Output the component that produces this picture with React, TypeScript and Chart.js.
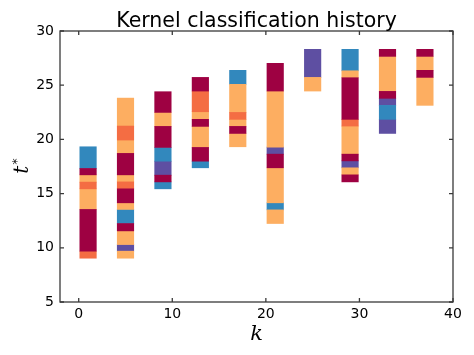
import React, { useEffect, useRef } from "react";
import { Chart, registerables } from "chart.js";

Chart.register(...registerables);

// ---- data ----
const chartTitle = "Kernel classification history";
const xLabel = "k";
const yLabel = "t";
const yLabelSup = "*";

const kValues = [1, 5, 9, 13, 17, 21, 25, 29, 33, 37];
const xTicks = [0, 10, 20, 30, 40];
const yTicks = [5, 10, 15, 20, 25, 30];

// class index -> colour (Spectral-like)
const classColors = ["#9e0142", "#f46d43", "#fdae61", "#3288bd", "#5e4fa2"];
const classNames = ["class 0", "class 1", "class 2", "class 3", "class 4"];

// segment edges (top to bottom) and class per segment, per column
const col0Edges = [19.32, 17.32, 16.73, 16.06, 15.44, 13.54, 9.69, 9.04];
const col0Classes = [3, 0, 2, 1, 2, 0, 1];
const col1Edges = [23.81, 21.23, 19.94, 18.71, 16.73, 16.08, 15.44, 14.15, 13.54, 12.24, 11.56, 10.3, 9.69, 9.04];
const col1Classes = [2, 1, 2, 0, 2, 1, 0, 2, 3, 0, 2, 4, 2];
const col2Edges = [24.4, 22.49, 21.2, 19.26, 17.99, 16.7, 16.08, 15.44];
const col2Classes = [0, 2, 0, 3, 4, 0, 3];
const col3Edges = [25.72, 24.46, 22.55, 21.85, 21.2, 19.26, 17.99, 17.38];
const col3Classes = [0, 1, 2, 0, 2, 0, 3];
const col4Edges = [26.37, 25.08, 22.49, 21.85, 21.2, 20.55, 19.32];
const col4Classes = [3, 2, 1, 2, 0, 2];
const col5Edges = [27.02, 24.46, 19.29, 18.64, 17.38, 14.15, 13.5, 12.24];
const col5Classes = [0, 2, 4, 0, 2, 3, 2];
const col6Edges = [28.31, 25.72, 24.46];
const col6Classes = [4, 2];
const col7Edges = [28.31, 26.33, 25.69, 21.85, 21.23, 18.64, 18.02, 17.38, 16.73, 16.08];
const col7Classes = [3, 2, 0, 1, 2, 0, 4, 2, 0];
const col8Edges = [28.31, 27.66, 24.43, 23.79, 23.14, 21.85, 20.55];
const col8Classes = [0, 2, 0, 4, 3, 4];
const col9Edges = [28.31, 27.66, 26.37, 25.72, 23.14];
const col9Classes = [0, 2, 0, 2];

const columnEdges = [col0Edges, col1Edges, col2Edges, col3Edges, col4Edges, col5Edges, col6Edges, col7Edges, col8Edges, col9Edges];
const columnClasses = [col0Classes, col1Classes, col2Classes, col3Classes, col4Classes, col5Classes, col6Classes, col7Classes, col8Classes, col9Classes];

function buildDatasets() {
  return classColors.map((color, ci) => {
    const data: { x: number; y: [number, number] }[] = [];
    kValues.forEach((k, col) => {
      const edges = columnEdges[col];
      const classes = columnClasses[col];
      classes.forEach((c, s) => {
        if (c === ci) data.push({ x: k, y: [edges[s + 1], edges[s]] });
      });
    });
    return {
      label: classNames[ci],
      data,
      backgroundColor: color,
      borderWidth: 0,
      grouped: false,
      barThickness: 16.5,
    };
  });
}

const framePlugin = {
  id: "frame",
  afterDraw(chart: any) {
    const { ctx, chartArea, scales } = chart;
    const { left, right, top, bottom } = chartArea;
    const x = scales.x;
    const y = scales.y;
    ctx.save();
    ctx.strokeStyle = "#3a3a3a";
    ctx.lineWidth = 1.3;
    ctx.strokeRect(left, top, right - left, bottom - top);
    const tl = 4;
    ctx.beginPath();
    xTicks.forEach((v) => {
      const px = x.getPixelForValue(v);
      ctx.moveTo(px, bottom);
      ctx.lineTo(px, bottom - tl);
      ctx.moveTo(px, top);
      ctx.lineTo(px, top + tl);
    });
    yTicks.forEach((v) => {
      const py = y.getPixelForValue(v);
      ctx.moveTo(left, py);
      ctx.lineTo(left + tl, py);
      ctx.moveTo(right, py);
      ctx.lineTo(right - tl, py);
    });
    ctx.stroke();

    // title
    ctx.fillStyle = "#000";
    ctx.font = '20.5px "DejaVu Sans"';
    ctx.textAlign = "center";
    ctx.textBaseline = "alphabetic";
    ctx.fillText(chartTitle, (left + right) / 2, 27);

    // x label
    ctx.font = 'italic 21px "DejaVu Serif"';
    ctx.fillText(xLabel, (left + right) / 2, 340);

    // y label
    ctx.save();
    ctx.translate(28, (top + bottom) / 2);
    ctx.rotate(-Math.PI / 2);
    ctx.font = 'italic 20px "DejaVu Serif"';
    ctx.textAlign = "left";
    const tw = ctx.measureText(yLabel).width;
    ctx.font = '13px "DejaVu Sans"';
    const sw = ctx.measureText(yLabelSup).width;
    const start = -(tw + sw) / 2;
    ctx.font = 'italic 20px "DejaVu Serif"';
    ctx.fillText(yLabel, start, 0);
    ctx.font = '13px "DejaVu Sans"';
    ctx.fillText(yLabelSup, start + tw + 1, -7);
    ctx.restore();
    ctx.restore();
  },
};

export default function App() {
  const ref = useRef<HTMLCanvasElement>(null);
  useEffect(() => {
    if (!ref.current) return;
    const chart = new Chart(ref.current, {
      type: "bar",
      data: { datasets: buildDatasets() as any },
      options: {
        responsive: false,
        animation: false,
        devicePixelRatio: 1,
        layout: { padding: { left: 0, right: 21, top: 31, bottom: 0 } },
        plugins: { legend: { display: false }, tooltip: { enabled: false }, title: { display: false } },
        scales: {
          x: {
            type: "linear",
            min: -2,
            max: 40,
            offset: false,
            grid: { display: false, drawTicks: false, offset: false },
            border: { display: false },
            afterBuildTicks: (s: any) => {
              s.ticks = xTicks.map((v) => ({ value: v }));
            },
            afterFit: (s: any) => {
              s.height = 53;
            },
            ticks: {
              color: "#000",
              font: { family: "DejaVu Sans", size: 14 },
              padding: 4,
              maxRotation: 0,
              autoSkip: false,
            },
          },
          y: {
            type: "linear",
            min: 5,
            max: 30,
            grid: { display: false, drawTicks: false },
            border: { display: false },
            afterBuildTicks: (s: any) => {
              s.ticks = yTicks.map((v) => ({ value: v }));
            },
            afterFit: (s: any) => {
              s.width = 60;
            },
            ticks: {
              color: "#000",
              font: { family: "DejaVu Sans", size: 14 },
              padding: 6,
              autoSkip: false,
            },
          },
        },
      },
      plugins: [framePlugin],
    });
    return () => chart.destroy();
  }, []);
  return (
    <div style={{ position: "absolute", left: 0, top: 0, width: 474, height: 355, background: "#fff" }}>
      <canvas ref={ref} width={474} height={355} style={{ display: "block" }} />
    </div>
  );
}
